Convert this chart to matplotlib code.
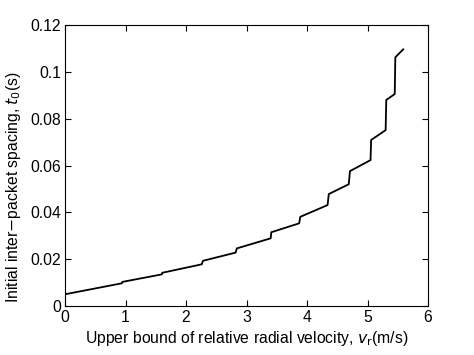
import matplotlib
matplotlib.use("Agg")
import matplotlib.pyplot as plt

# curve vertices (v_r in m/s, t_0 in s)
v_r = [0.0, 0.94, 0.95, 1.60, 1.61, 2.26, 2.28, 2.82, 2.84, 3.40, 3.41,
       3.87, 3.89, 4.34, 4.36, 4.69, 4.71, 5.05, 5.06, 5.30, 5.31, 5.45, 5.46, 5.59]
t_0 = [0.0050, 0.0097, 0.0103, 0.0135, 0.0142, 0.0178, 0.0193, 0.0228, 0.0246,
       0.0289, 0.0315, 0.0353, 0.0381, 0.0431, 0.0478, 0.0520, 0.0576, 0.0623,
       0.0709, 0.0751, 0.0880, 0.0905, 0.1062, 0.1096]

xticks = [0, 1, 2, 3, 4, 5, 6]
yticks = [0, 0.02, 0.04, 0.06, 0.08, 0.1, 0.12]
ytick_labels = ["0", "0.02", "0.04", "0.06", "0.08", "0.1", "0.12"]

plt.rcParams['font.family'] = ['Liberation Sans', 'DejaVu Sans']
plt.rcParams['font.size'] = 11.3

fig = plt.figure(figsize=(4.74, 3.55), dpi=100)
ax = fig.add_axes([65 / 474, 1 - 306 / 355, 363 / 474, 281 / 355])

ax.plot(v_r, t_0, color='black', linewidth=1.3)

ax.set_xlim(0, 6)
ax.set_ylim(0, 0.12)
ax.set_xticks(xticks)
ax.set_yticks(yticks)
ax.set_yticklabels(ytick_labels)
ax.tick_params(direction='in', length=4, width=0.8, top=True, right=True, pad=3)
for s in ax.spines.values():
    s.set_linewidth(0.8)

ax.set_xlabel(r'Upper bound of relative radial velocity, $\it{v}_{\rm r}$(m/s)', labelpad=3)
ax.set_ylabel(r'Initial inter$-$packet spacing, $\it{t}_{\rm 0}$(s)')
ax.yaxis.set_label_coords(-0.115, 0.423)

fig.savefig('out.png', dpi=100)
